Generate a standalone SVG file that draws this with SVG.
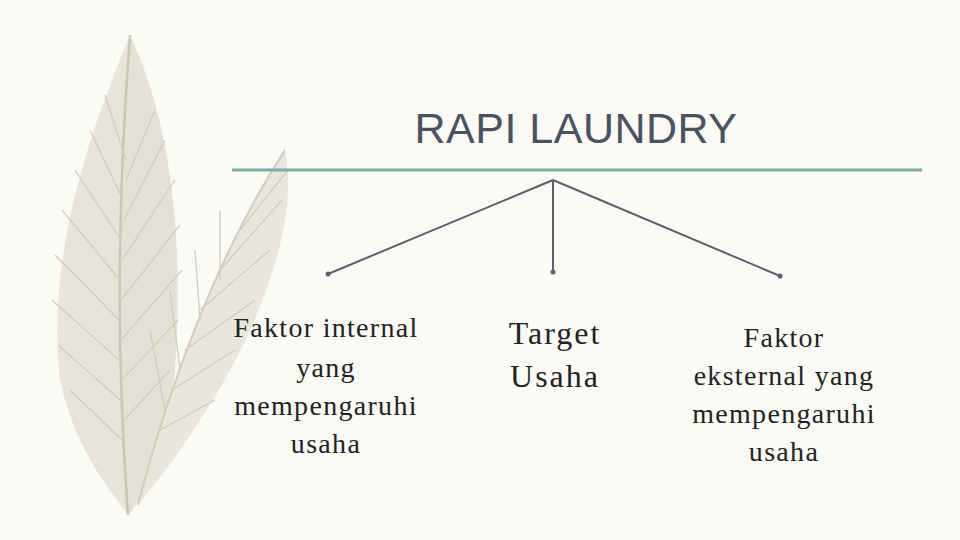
<svg xmlns="http://www.w3.org/2000/svg" width="960" height="540" viewBox="0 0 960 540">
<style>
.lbl{font-family:"Liberation Serif",serif;font-size:28px;letter-spacing:1.3px;fill:#222;text-anchor:middle}
.con{stroke:#5b6070;stroke-width:2;fill:none}
.barb{stroke:#cfcdbd;stroke-width:1.3;fill:none}
</style>
<rect width="960" height="540" fill="#fbfaf5"/>
<g id="feather">
<path d="M128,515 C120,400 110,250 130,35 C170,120 190,250 170,420 C160,470 140,500 128,515Z" fill="#e4e2d6"/>
<path d="M128,515 C120,400 110,250 130,35 C95,120 45,250 60,380 C75,450 110,490 128,515Z" fill="#e7e5da"/>
<path d="M138,505 C170,380 220,250 285,150 C300,220 260,330 200,420 C175,460 150,490 138,505Z" fill="#e9e7dc"/>
<path d="M128,515 C118,380 115,230 130,35" stroke="#c8c6b5" stroke-width="2.5" fill="none"/>
<path d="M138,505 C170,380 220,250 285,150" stroke="#cfcdbd" stroke-width="2" fill="none"/>
<path class="barb" d="M122,440 L70,390 M120,400 L58,345 M119,360 L52,300 M119,320 L55,255 M120,280 L62,210 M121,240 L75,170 M123,200 L90,130 M126,160 L105,95 M124,420 L170,370 M122,380 L178,320 M121,340 L182,270 M121,300 L180,225 M122,260 L175,180 M124,220 L165,140 M126,180 L155,110 M160,430 L215,400 M172,390 L235,350 M185,350 L255,300 M200,310 L270,250 M220,270 L282,200 M240,230 L288,170 M165,410 L150,330 M180,370 L170,290 M200,320 L195,250 M220,280 L220,210"/>
</g>
<g id="title"><text x="576" y="143" font-family="Liberation Sans,sans-serif" font-size="43" letter-spacing="0.5" fill="#4a5262" text-anchor="middle">RAPI LAUNDRY</text>
<line x1="232" y1="170" x2="922" y2="170" stroke="#7fa9a8" stroke-width="3"/></g>
<g id="connectors">
<path class="con" d="M553,180 L328,274 M553,180 L553,272 M553,180 L780,276"/>
<circle cx="328" cy="274" r="2.5" fill="#5b6070"/><circle cx="553" cy="272" r="2.5" fill="#5b6070"/><circle cx="780" cy="276" r="2.5" fill="#5b6070"/>
</g>
<g id="n1"><text class="lbl"><tspan x="326" y="337">Faktor internal</tspan><tspan x="326" y="377">yang</tspan><tspan x="326" y="415">mempengaruhi</tspan><tspan x="326" y="453">usaha</tspan></text></g>
<g id="n2"><text class="lbl" style="font-size:32px;letter-spacing:2px"><tspan x="555" y="344">Target</tspan><tspan x="555" y="387">Usaha</tspan></text></g>
<g id="n3"><text class="lbl"><tspan x="784" y="347">Faktor</tspan><tspan x="784" y="385">eksternal yang</tspan><tspan x="784" y="423">mempengaruhi</tspan><tspan x="784" y="461">usaha</tspan></text></g>
</svg>
